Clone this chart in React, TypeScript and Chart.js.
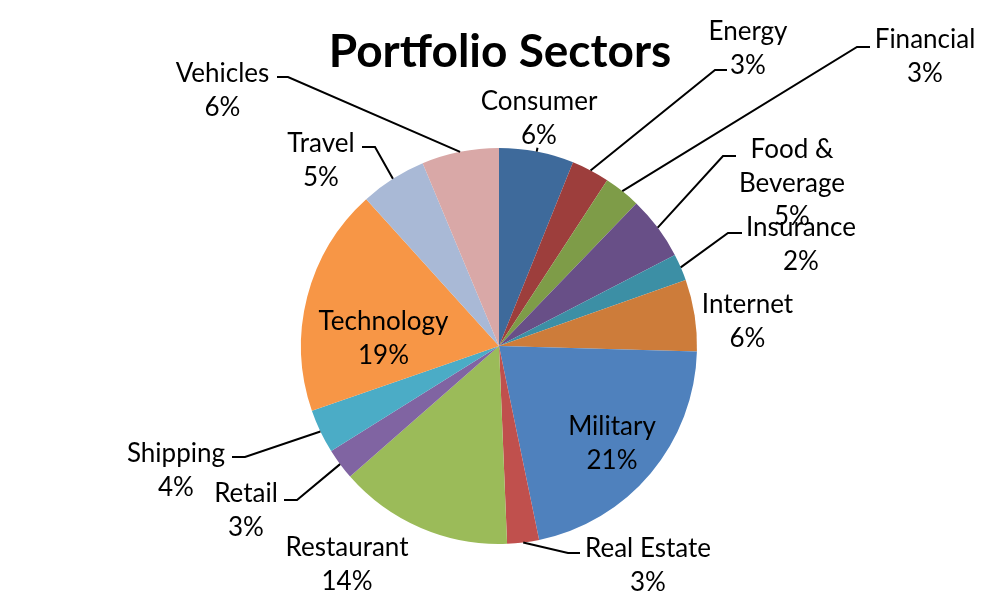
import { useEffect, useRef } from "react";
import Chart from "chart.js/auto";

const sectors = [
  "Consumer", "Energy", "Financial", "Food & Beverage", "Insurance", "Internet", "Military",
  "Real Estate", "Restaurant", "Retail", "Shipping", "Technology", "Travel", "Vehicles",
];
const weights = [6.1, 3.1, 3.0, 5.2, 2.2, 5.85, 21.3, 2.6, 14.2, 2.55, 3.6, 18.6, 5.4, 6.3];
const colors = [
  "#3E6A9B", "#9D3E3C", "#7E9C48", "#684F87", "#3C8FA5", "#CD7C3A", "#4F81BD",
  "#C0504D", "#9BBB59", "#8064A2", "#4BACC6", "#F79646", "#A9B9D6", "#D9A8A7",
];

// where each label sits, as offsets from the pie centre (first text line),
// plus the elbow and end of its leader line when it has one
const placement: { t: [number, number]; leader?: [number, number, number, number]; tick?: boolean }[] = [
  { t: [40, -246], tick: true },
  { t: [249, -316], leader: [216, -276, 228, -276] },
  { t: [426, -308], leader: [358, -299, 371, -299] },
  { t: [293, -198], leader: [224, -190, 237, -190] },
  { t: [302, -120], leader: [229, -113, 243, -113] },
  { t: [248.5, -43] },
  { t: [113, 79] },
  { t: [149, 201], leader: [69, 207, 81, 207] },
  { t: [-152, 200] },
  { t: [-253, 146], leader: [-202, 154, -215, 154] },
  { t: [-323, 106], leader: [-254, 111, -267, 111] },
  { t: [-115.5, -26] },
  { t: [-178, -204], leader: [-124, -199, -137, -199] },
  { t: [-276.5, -274], leader: [-211, -269, -222, -269] },
];

const FONT = "Lato, 'Noto Sans', sans-serif";

const sectorLabels = {
  id: "sectorLabels",
  afterDatasetsDraw(chart: any) {
    const ctx = chart.ctx as CanvasRenderingContext2D;
    const meta = chart.getDatasetMeta(0);
    const total = weights.reduce((a, b) => a + b, 0);
    ctx.save();

    ctx.fillStyle = "#000";
    ctx.textAlign = "center";
    ctx.textBaseline = "alphabetic";
    ctx.font = `bold 46px ${FONT}`;
    ctx.fillText("Portfolio Sectors", 500, 67);

    ctx.strokeStyle = "#000";
    ctx.lineWidth = 2;
    ctx.font = `26px ${FONT}`;
    ctx.textBaseline = "middle";
    meta.data.forEach((arc: any, i: number) => {
      const { x, y, startAngle, endAngle, outerRadius } = arc.getProps(
        ["x", "y", "startAngle", "endAngle", "outerRadius"], true);
      const mid = (startAngle + endAngle) / 2;
      const ex = x + Math.cos(mid) * outerRadius;
      const ey = y + Math.sin(mid) * outerRadius;
      const p = placement[i];
      if (p.leader) {
        const [bx, by, qx, qy] = p.leader;
        ctx.beginPath();
        ctx.moveTo(ex, ey);
        ctx.lineTo(x + bx, y + by);
        ctx.lineTo(x + qx, y + qy);
        ctx.stroke();
      } else if (p.tick) {
        ctx.beginPath();
        ctx.moveTo(ex, ey);
        ctx.lineTo(ex + Math.cos(mid) * 4, ey + Math.sin(mid) * 4);
        ctx.stroke();
      }
      const lines = sectors[i].split(/(?<=&) /);
      lines.push(Math.round((weights[i] / total) * 100) + "%");
      lines.forEach((s, k) => ctx.fillText(s, x + p.t[0], y + p.t[1] + 2 + k * 33.5));
    });
    ctx.restore();
  },
};

export default function App() {
  const ref = useRef<HTMLCanvasElement>(null);
  useEffect(() => {
    document.body.style.margin = "0";
    const chart = new Chart(ref.current!, {
      type: "pie",
      data: {
        labels: sectors,
        datasets: [{ data: weights, backgroundColor: colors, borderWidth: 0, hoverOffset: 0 }],
      },
      options: {
        animation: false,
        responsive: true,
        maintainAspectRatio: false,
        layout: { padding: { top: 148, bottom: 56, left: 301, right: 302 } },
        plugins: { legend: { display: false }, tooltip: { enabled: false }, title: { display: false } },
      },
      plugins: [sectorLabels],
    });
    return () => chart.destroy();
  }, []);

  return (
    <div style={{ width: 999, height: 600, background: "#fff" }}>
      <canvas ref={ref} />
    </div>
  );
}
